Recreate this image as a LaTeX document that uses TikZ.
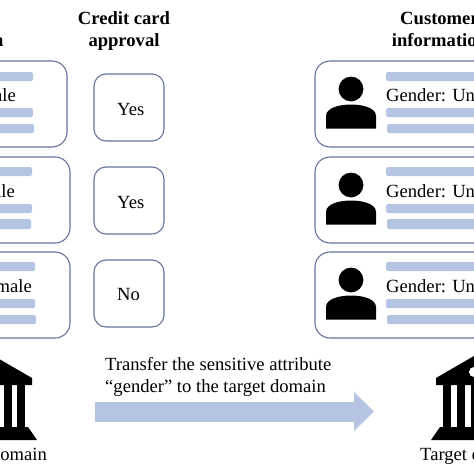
\documentclass[tikz,border=0pt]{standalone}
\usepackage{fontspec}
\setmainfont{Liberation Serif}
\usepackage{tikz}
\usetikzlibrary{arrows.meta,calc}
\definecolor{edgeblue}{HTML}{66739A}
\definecolor{barblue}{HTML}{B4C4E2}
\tikzset{
  label/.style={inner sep=0pt,font=\fontsize{18.6}{22}\selectfont,text=black},
  heading/.style={label,align=center,anchor=base,font=\fontsize{18.6}{22}\selectfont\bfseries},
  cardbox/.style={draw=edgeblue,line width=1.1pt,rounded corners=15pt,minimum height=86pt,inner sep=0pt},
  answerbox/.style={cardbox,rounded corners=12pt,minimum width=70pt,minimum height=67pt},
  bar/.style={fill=barblue,rounded corners=1.5pt},
  person/.pic={
    \fill[black] (0,0) circle (12.4);
    \fill[black] (-25,39.5) -- (-25,27) .. controls (-25,19) and (-12,15.5) .. (0,15.5)
      .. controls (12,15.5) and (25,19) .. (25,27) -- (25,39.5) -- cycle;
  },
  bank/.pic={
    \fill[black] (0,0) -- (38,22) -- (38,29) -- (-38,29) -- (-38,22) -- cycle;
    \fill[white] (0,16) circle (5);
    \foreach \colx in {-31,-17,-3,10,23} \fill[black] (\colx,28) rectangle ++(7.5,44);
    \fill[black] (-34,71) -- (34,71) -- (43,84) -- (-43,84) -- cycle;
  }
}
\begin{document}
\begin{tikzpicture}[x=1pt,y=-1pt]
\useasboundingbox (0,0) rectangle (474,474);
\clip (0,0) rectangle (474,474);
% headings
\node[heading] (srchead) at (-44,46.5) {Customer\\information};
\node[heading] (cardhead) at (124,46.5) {Credit card\\approval};
\node[heading] (tgthead) at (439.5,46.5) {Customer\\information};
% source cards
\node[cardbox,minimum width=127pt] (srccard1) at (3.5,104) {};
\node[cardbox,minimum width=130pt] (srccard2) at (5,200) {};
\node[cardbox,minimum width=130pt] (srccard3) at (5,295) {};
\fill[bar] (-60,72) rectangle (33,81);
\fill[bar] (-60,108) rectangle (33,117);
\fill[bar] (-60,124) rectangle (34,133);
\fill[bar] (-60,167) rectangle (32,176);
\fill[bar] (-60,204) rectangle (32,213);
\fill[bar] (-60,219) rectangle (31,229);
\fill[bar] (-60,262) rectangle (35,271);
\fill[bar] (-60,299) rectangle (35,308);
\fill[bar] (-60,315) rectangle (36,324);
\node[label,anchor=base east] (srcgender1) at (16,101) {Gender: Male};
\node[label,anchor=base east] (srcgender2) at (15,197) {Gender: Male};
\node[label,anchor=base east] (srcgender3) at (32,292) {Gender: Female};
% approval boxes
\node[answerbox] (answer1) at (129,107.5) {};
\node[answerbox] (answer2) at (129,200.5) {};
\node[answerbox] (answer3) at (129,293.5) {};
\node[label,anchor=base west] (yes1) at (117,115) {Yes};
\node[label,anchor=base west] (yes2) at (117,208) {Yes};
\node[label,anchor=base west] (no3) at (117,300) {No};
% target cards
\node[cardbox,minimum width=220pt] (tgtcard1) at (425,104) {};
\node[cardbox,minimum width=220pt] (tgtcard2) at (425,200) {};
\node[cardbox,minimum width=220pt] (tgtcard3) at (425,295) {};
\pic at (351,89) {person};
\pic at (351,185) {person};
\pic at (351,280) {person};
\fill[bar] (386,72) rectangle (540,81);
\fill[bar] (386,108) rectangle (540,117);
\fill[bar] (387,124) rectangle (540,133);
\fill[bar] (386,167) rectangle (540,176);
\fill[bar] (386,204) rectangle (540,213);
\fill[bar] (387,219) rectangle (540,229);
\fill[bar] (386,262) rectangle (540,271);
\fill[bar] (386,299) rectangle (540,308);
\fill[bar] (387,315) rectangle (540,324);
\node[label,anchor=base west] (tgtgender1) at (386,101) {Gender: Unknown};
\node[label,anchor=base west] (tgtgender2) at (386,197) {Gender: Unknown};
\node[label,anchor=base west] (tgtgender3) at (386,292) {Gender: Unknown};
% transfer arrow
\node[label,anchor=base west] (transfer1) at (105,370) {Transfer the sensitive attribute};
\node[label,anchor=base west] (transfer2) at (105,392) {``gender'' to the target domain};
\coordinate (arrowfrom) at (95,411.5);
\coordinate (arrowto) at (374,411.5);
\draw[barblue,line width=20pt,-{Triangle[length=20pt,width=38pt]}] (arrowfrom) -- (arrowto);
% banks
\pic at (-6,356) {bank};
\pic at (474,356) {bank};
\node[label,anchor=base east] (srcdomain) at (47,460) {Source domain};
\node[label,anchor=base west] (tgtdomain) at (420,460) {Target domain};
\end{tikzpicture}
\end{document}
